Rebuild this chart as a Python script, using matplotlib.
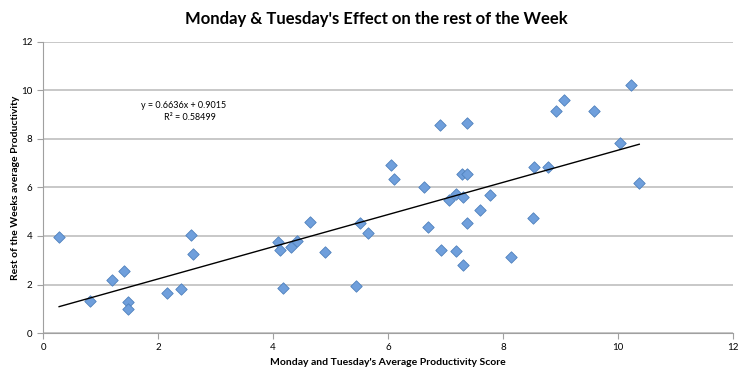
import numpy as np
import matplotlib
matplotlib.use('Agg')
import matplotlib.pyplot as plt

# Scores
monday_tuesday = [0.28, 0.82, 1.20, 1.41, 1.47, 1.47, 2.16, 2.40, 2.58, 2.61,
                  4.09, 4.12, 4.18, 4.31, 4.42, 4.64, 4.91, 5.44, 5.52, 5.66,
                  6.06, 6.10, 6.63, 6.69, 6.91, 6.93, 7.06, 7.18, 7.18, 7.28,
                  7.30, 7.31, 7.38, 7.38, 7.38, 7.60, 7.77, 8.14, 8.53, 8.54,
                  8.78, 8.93, 9.06, 9.59, 10.03, 10.23, 10.37]
rest_of_week = [3.97, 1.33, 2.19, 2.57, 1.29, 0.98, 1.66, 1.83, 4.04, 3.26,
                3.76, 3.42, 1.87, 3.56, 3.81, 4.59, 3.34, 1.95, 4.54, 4.12,
                6.93, 6.35, 6.03, 4.36, 8.58, 3.42, 5.48, 5.74, 3.39, 6.56,
                2.82, 5.59, 6.56, 4.55, 8.67, 5.06, 5.70, 3.15, 4.74, 6.83,
                6.83, 9.15, 9.61, 9.15, 7.85, 10.23, 6.19]

# trendline from the chart's equation
slope = 0.6636
intercept = 0.9015
r_squared = 0.58499

plt.rcParams['font.family'] = ['Lato', 'DejaVu Sans']

fig = plt.figure(figsize=(7.52, 3.78), dpi=100)
ax = fig.add_axes([0.0572, 0.119, 0.9175, 0.770])

ax.scatter(monday_tuesday, rest_of_week, marker='D', s=34,
           color='#6f9fdc', edgecolor='#4f81bd', linewidth=0.6, zorder=3)

x_fit = np.array([min(monday_tuesday), max(monday_tuesday)])
ax.plot(x_fit, slope * x_fit + intercept, color='black', linewidth=1.0, zorder=4)

ax.text(2.45, 9.36, f'y = {slope}x + {intercept}', fontsize=6.5,
        ha='center', va='center')
ax.text(2.56, 8.87, f'R² = {r_squared}', fontsize=6.5,
        ha='center', va='center')

ax.set_xlim(0, 12)
ax.set_ylim(0, 12)
ax.set_xticks(range(0, 13, 2))
ax.set_yticks(range(0, 13, 2))
ax.grid(axis='y', color='#c4c4c4', linewidth=1.3)
ax.set_axisbelow(True)
for side in ['top', 'right']:
    ax.spines[side].set_visible(False)
for side in ['left', 'bottom']:
    ax.spines[side].set_color('#a0a0a0')
ax.tick_params(colors='#a0a0a0', labelcolor='black', labelsize=7, length=4)

ax.set_xlabel("Monday and Tuesday's Average Productivity Score",
              fontsize=7.5, fontweight='bold', labelpad=4)
ax.set_ylabel("Rest of the Weeks average Productivity",
              fontsize=7.5, fontweight='bold', labelpad=1)
fig.suptitle("Monday & Tuesday's Effect on the rest of the Week",
             fontsize=12, fontweight='bold', y=0.97)

fig.savefig('out.png', dpi=100)
